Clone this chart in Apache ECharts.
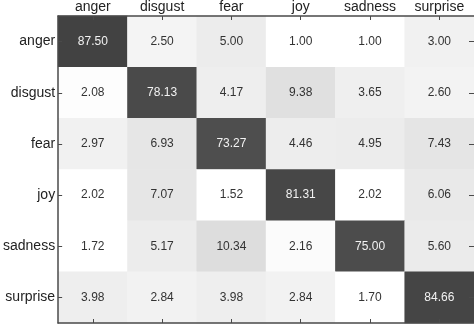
<!DOCTYPE html>
<html>
<head>
<meta charset="utf-8">
<script src="https://cdn.jsdelivr.net/npm/echarts@6/dist/echarts.min.js"></script>
<style>html,body{margin:0;padding:0;background:#fff;}#c{width:474px;height:325px;}</style>
</head>
<body>
<div id="c"></div>
<script>
const categories = ['anger', 'disgust', 'fear', 'joy', 'sadness', 'surprise'];
const rowAnger    = [87.50, 2.50, 5.00, 1.00, 1.00, 3.00];
const rowDisgust  = [2.08, 78.13, 4.17, 9.38, 3.65, 2.60];
const rowFear     = [2.97, 6.93, 73.27, 4.46, 4.95, 7.43];
const rowJoy      = [2.02, 7.07, 1.52, 81.31, 2.02, 6.06];
const rowSadness  = [1.72, 5.17, 10.34, 2.16, 75.00, 5.60];
const rowSurprise = [3.98, 2.84, 3.98, 2.84, 1.70, 84.66];
const rows = [rowAnger, rowDisgust, rowFear, rowJoy, rowSadness, rowSurprise];

// colour ramp anchors (value -> gray level), style only
const anchors = [[0,255],[2.2,255],[2.5,244],[3,241],[4,238],[5,236],[7,230],[10.5,221],[73,78],[90,64]];
function grayAt(v){
  for (let i=0;i<anchors.length-1;i++){
    const a=anchors[i], b=anchors[i+1];
    if (v<=b[0]) { const t=(v-a[0])/(b[0]-a[0]); return Math.round(a[1]+(b[1]-a[1])*t); }
  }
  return anchors[anchors.length-1][1];
}
const vmMin = 0, vmMax = 90, step = 0.5;
const ramp = [];
for (let v=vmMin; v<=vmMax+1e-9; v+=step){ const g=grayAt(v); ramp.push('rgb('+g+','+g+','+g+')'); }

const data = [];
rows.forEach((row, yi) => row.forEach((val, xi) => {
  data.push({ value: [xi, yi, val], label: { color: val > 50 ? '#f2f2f2' : '#333333' } });
}));

const axisLineStyle = { color: '#4a4a4a', width: 1.5 };
const tickStyle = { color: '#4a4a4a', width: 1 };

const chart = echarts.init(document.getElementById('c'), null, { renderer: 'canvas' });
chart.setOption({
  animation: false,
  backgroundColor: '#fff',
  textStyle: { fontFamily: 'Liberation Sans, Arial, sans-serif' },
  grid: { left: 53, top: 13, width: 421, height: 310 },
  visualMap: { show: false, type: 'continuous', min: vmMin, max: vmMax, dimension: 2, inRange: { color: ramp } },
  xAxis: [
    { type: 'category', data: categories, position: 'top', z: 10,
      axisLine: { show: true, lineStyle: axisLineStyle },
      axisTick: { show: true, inside: true, alignWithLabel: true, length: 4, lineStyle: tickStyle },
      axisLabel: { fontSize: 14, color: '#222', margin: 2 },
      splitLine: { show: false }, splitArea: { show: false } },
    { type: 'category', data: categories, position: 'bottom', z: 10,
      axisLine: { show: true, lineStyle: axisLineStyle },
      axisTick: { show: true, inside: true, alignWithLabel: true, length: 4, lineStyle: tickStyle },
      axisLabel: { show: false },
      splitLine: { show: false }, splitArea: { show: false } }
  ],
  yAxis: [
    { type: 'category', data: categories, inverse: true, position: 'left', z: 10,
      axisLine: { show: true, lineStyle: axisLineStyle },
      axisTick: { show: true, inside: true, alignWithLabel: true, length: 4, lineStyle: tickStyle },
      axisLabel: { fontSize: 14, color: '#222', margin: 3 },
      splitLine: { show: false }, splitArea: { show: false } },
    { type: 'category', data: categories, inverse: true, position: 'right', z: 10,
      axisLine: { show: false },
      axisTick: { show: true, inside: true, alignWithLabel: true, length: 5, lineStyle: tickStyle },
      axisLabel: { show: false },
      splitLine: { show: false }, splitArea: { show: false } }
  ],
  series: [{
    type: 'heatmap', xAxisIndex: 0, yAxisIndex: 0,
    data: data,
    label: { show: true, fontSize: 12, formatter: p => p.value[2].toFixed(2) },
    itemStyle: { borderWidth: 0 },
    emphasis: { disabled: true }
  }]
});
</script>
</body>
</html>
